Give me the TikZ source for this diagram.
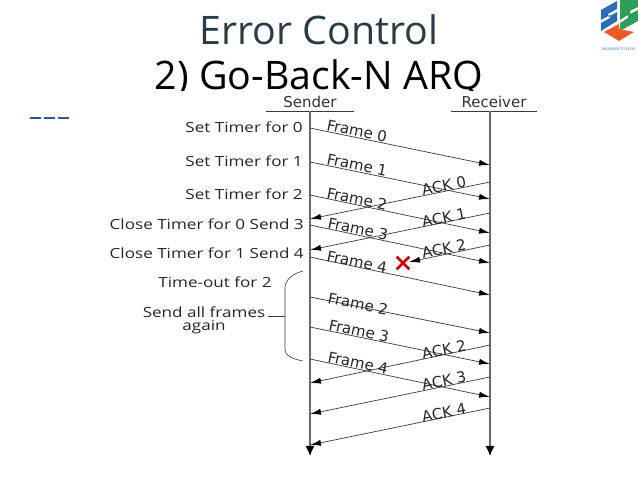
\documentclass[tikz,border=0pt]{standalone}
\usepackage{fontspec}
\setmainfont{Open Sans}
\newfontfamily\diagfont{DejaVu Sans}
\usetikzlibrary{arrows.meta,shapes.misc}
\definecolor{titleink}{HTML}{2A3B47}
\definecolor{lineink}{HTML}{3A3A3A}
\definecolor{lifeink}{HTML}{6A6A6A}
\definecolor{dashblue}{HTML}{2F5597}
\definecolor{logoblue}{HTML}{2A6FB5}
\definecolor{logogreen}{HTML}{2F9E5B}
\definecolor{logoorange}{HTML}{EE5A24}
\tikzset{
  titletext/.style={font=\fontsize{39.3}{40}\selectfont,inner sep=0pt},
  headtext/.style={font=\diagfont\fontsize{15}{15}\selectfont,text=black!80,inner sep=0pt},
  sidetext/.style={font=\fontsize{14}{14}\selectfont,text=black!85,inner sep=0pt,xscale=1.22},
  msgtext/.style={font=\diagfont\fontsize{15}{15}\selectfont,text=black!85,inner sep=0pt,rotate=-11.6},
  acktext/.style={font=\diagfont\fontsize{15}{15}\selectfont,text=black!85,inner sep=0pt,rotate=11.6},
  lifeline/.style={draw=lifeink,line width=1.3pt,-{Latex[length=10pt,width=9pt,color=black]}},
  msg/.style={draw=lineink,line width=0.7pt,-{Latex[length=11pt,width=6pt,color=black]}},
  headline/.style={draw=lineink,line width=0.6pt},
  bracket/.style={draw=lineink,line width=0.6pt},
}
\begin{document}
\begin{tikzpicture}[x=1pt,y=-1pt]
\useasboundingbox (0,0) rectangle (638,478);
\fill[white] (0,0) rectangle (638,478);
% title
\node[titletext,text=titleink,anchor=base] (t1) at (319,45) {Error Control};
\node[titletext,text=black,anchor=base] (t2) at (319,90) {2) Go-Back-N ARQ};
\fill[white] (100,91) rectangle (560,101);
% dashes
\draw[dashblue,line width=1.1pt] (30,118) -- (41,118) (44,118) -- (55,118) (58,118) -- (69,118);
% logo
\fill[logoblue] (601,10) -- (617,1) -- (617,9) -- (608,14) -- (608,17) -- (617,12) -- (617,21) -- (601,31) -- (601,23) -- (610,18) -- (610,15) -- (601,20) -- cycle;
\fill[logogreen] (620,0) -- (638,0) -- (638,7) -- (630,11) -- (630,14) -- (638,10) -- (638,21) -- (620,31) -- (620,23) -- (628,18) -- (628,15) -- (620,20) -- cycle;
\fill[logoorange] (604,32) -- (619,24) -- (619,29) -- (634,32) -- (619,41) -- cycle;
\node[inner sep=0pt,text=logoblue,font=\fontsize{3.6}{4}\selectfont] (logotext) at (619,49) {ENGINEER TO EXCEL};
% heads
\node[headtext] (sender) at (310,102) {Sender};
\node[headtext] (receiver) at (494,102) {Receiver};
\coordinate (sl) at (266,111); \coordinate (sr) at (354,111);
\coordinate (rl) at (451,111); \coordinate (rr) at (537,111);
\draw[headline] (sl) -- (sr);
\draw[headline] (rl) -- (rr);
% lifelines
\coordinate (stop) at (310,111); \coordinate (sbot) at (310,456);
\coordinate (rtop) at (490,111); \coordinate (rbot) at (490,456);
\draw[lifeline] (stop) -- (sbot);
\draw[lifeline] (rtop) -- (rbot);
% frames
\foreach \n/\a/\b in {f0/128/165,f1/162/199,f2/195/233,f3/225/263,f4/257/295,g2/297/333,g3/327/364,g4/359/397}{
  \coordinate (\n s) at (310,\a); \coordinate (\n e) at (490,\b);
  \draw[msg] (\n s) -- (\n e);
}
% acks
\foreach \n/\a/\b in {a0/182/219,a1/213/250,b2/345/383,b3/377/414,b4/408/445}{
  \coordinate (\n s) at (490,\a); \coordinate (\n e) at (310,\b);
  \draw[msg] (\n s) -- (\n e);
}
\node[cross out,draw=red!80!black,line width=2.6pt,minimum size=10pt,inner sep=0pt] (lost) at (403,263) {};
\coordinate (a2s) at (490,245);
\coordinate (a2e) at (409,262);
\draw[msg] (a2s) -- (a2e);
% message labels
\node[msgtext] (lf0) at (357,131) {Frame 0};
\node[msgtext] (lf1) at (357,165) {Frame 1};
\node[msgtext] (lf2) at (357,199) {Frame 2};
\node[msgtext] (lf3) at (358,229) {Frame 3};
\node[msgtext] (lf4) at (357,262) {Frame 4};
\node[msgtext] (lg2) at (358,304) {Frame 2};
\node[msgtext] (lg3) at (359,331) {Frame 3};
\node[msgtext] (lg4) at (358,363) {Frame 4};
\node[acktext] (la0) at (444,186) {ACK 0};
\node[acktext] (la1) at (444,218) {ACK 1};
\node[acktext] (la2) at (444,249) {ACK 2};
\node[acktext] (lb2) at (444,350) {ACK 2};
\node[acktext] (lb3) at (444,381) {ACK 3};
\node[acktext] (lb4) at (444,413) {ACK 4};
% side labels
\node[sidetext,anchor=east] (s0) at (303,127) {Set Timer for 0};
\node[sidetext,anchor=east] (s1) at (303,161) {Set Timer for 1};
\node[sidetext,anchor=east] (s2) at (303,194) {Set Timer for 2};
\node[sidetext,anchor=east] (s3) at (304,224) {Close Timer for 0 Send 3};
\node[sidetext,anchor=east] (s4) at (304,253) {Close Timer for 1 Send 4};
\node[sidetext] (s5) at (215,282) {Time-out for 2};
\node[sidetext] (s6) at (204,312) {Send all frames};
\node[sidetext] (s7) at (204,327) {again};
% bracket
\coordinate (btop) at (303,271); \coordinate (bbot) at (303,361);
\coordinate (bmid) at (285,316); \coordinate (btick) at (268,316);
\draw[bracket] (btop) .. controls (292,274) and (285,280) .. (285,288) -- (285,350) .. controls (285,355) and (292,359) .. (bbot);
\draw[bracket] (btick) -- (bmid);
\end{tikzpicture}
\end{document}
